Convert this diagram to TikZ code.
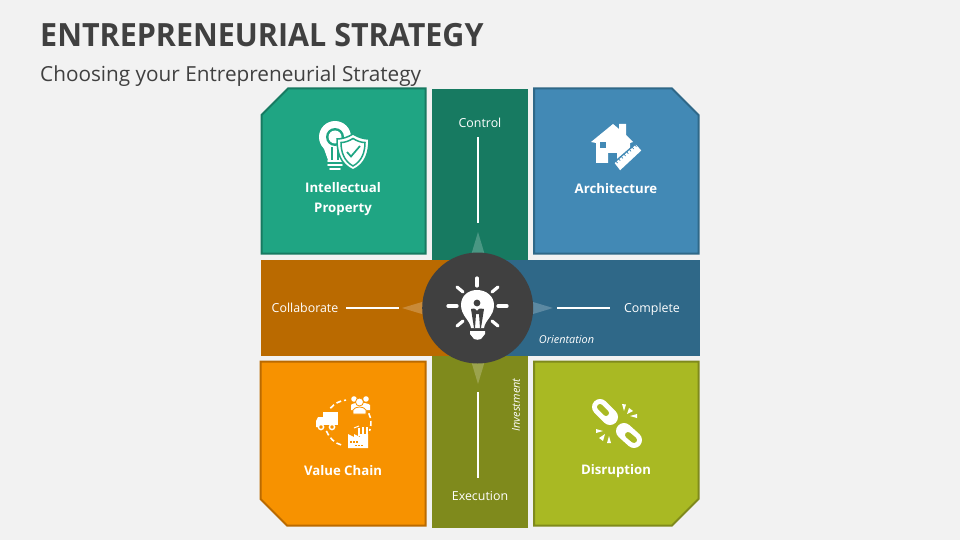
\documentclass[tikz,border=0pt]{standalone}
\usepackage{fontspec}
\usetikzlibrary{calc}
\setmainfont{Open Sans}
\newfontfamily\headfont[FakeStretch=0.952]{Open Sans}
\definecolor{pagebg}{HTML}{F2F2F2}
\definecolor{inkgray}{HTML}{404040}
\definecolor{tealcard}{HTML}{1FA583}
\definecolor{tealband}{HTML}{177A61}
\definecolor{bluecard}{HTML}{4289B5}
\definecolor{blueband}{HTML}{2F6888}
\definecolor{orangecard}{HTML}{F79200}
\definecolor{orangeband}{HTML}{BA6A00}
\definecolor{limecard}{HTML}{A9B923}
\definecolor{oliveband}{HTML}{7F8A1C}
\tikzset{
  cardtext/.style={text=white,font=\fontsize{13.2}{20}\selectfont\bfseries,align=center,inner sep=0pt},
  bandtext/.style={text=white,anchor=base,font=\fontsize{12.4}{14}\selectfont,inner sep=0pt},
  axistext/.style={text=white,font=\fontsize{10.9}{12}\selectfont\itshape,inner sep=0pt},
  bandline/.style={draw=white,line width=1.5pt},
  pointer/.style={fill=white,fill opacity=0.22},
  ray/.style={draw=white,line width=3.2pt,line cap=round},
  dashring/.style={draw=white,line width=1.6pt,dash pattern=on 5pt off 3pt},
}
\begin{document}
\begin{tikzpicture}[x=1pt,y=-1pt]
        \fill [pagebg] (0,0) rectangle (960,540);
        \useasboundingbox (0,0) rectangle (960,540);
        % heading
        \node (title) [anchor=west,inner sep=0pt,text=inkgray,font=\headfont\fontsize{32}{36}\selectfont\bfseries] at (40,35) {ENTREPRENEURIAL STRATEGY};
        \node (subtitle) [anchor=west,inner sep=0pt,text=inkgray,font=\fontsize{20.75}{24}\selectfont] at (40,76.5) {Choosing your Entrepreneurial Strategy};
        % bands
        \fill [tealband] (432,89) rectangle (528,260);
        \fill [oliveband] (432,356) rectangle (528,528);
        \fill [orangeband] (261,260) rectangle (478,356);
        \fill [blueband] (478,260) rectangle (700,356);
        % cards
        \draw [line width=2pt,draw=tealband,fill=tealcard] (288,88.5) -- (425.5,88.5) -- (425.5,253.5) -- (261.5,253.5) -- (261.5,115) -- cycle;
        \draw [line width=2pt,draw=blueband,fill=bluecard] (534,88.5) -- (672,88.5) -- (698.5,115) -- (698.5,253.5) -- (534,253.5) -- cycle;
        \draw [line width=2pt,draw=orangeband,fill=orangecard] (260.5,361.5) -- (425.5,361.5) -- (425.5,525.5) -- (287,525.5) -- (260.5,499) -- cycle;
        \draw [line width=2pt,draw=oliveband,fill=limecard] (534,361.5) -- (698.5,361.5) -- (698.5,499) -- (672,525.5) -- (534,525.5) -- cycle;
        \node (property) [cardtext] at (343,199) {Intellectual\\Property};
        \node (architecture) [cardtext] at (616,188.5) {Architecture};
        \node (valuechain) [cardtext] at (343,471) {Value Chain};
        \node (disruption) [cardtext] at (616,471) {Disruption};
        % band labels and lines
        \node (control) [bandtext] at (480,128) {Control};
        \node (execution) [bandtext] at (480,500) {Execution};
        \node (collaborate) [bandtext] at (305,312) {Collaborate};
        \node (complete) [bandtext] at (652,312) {Complete};
        \node (orientation) [axistext] at (566.5,340) {Orientation};
        \node (investment) [axistext,rotate=90] at (516,405) {Investment};
        \coordinate (controltop) at (478,137);
        \coordinate (controlend) at (478,223);
        \coordinate (executiontop) at (478,392);
        \coordinate (executionend) at (478,478);
        \coordinate (collaborateleft) at (346,308);
        \coordinate (collaborateright) at (399,308);
        \coordinate (completeleft) at (557,308);
        \coordinate (completeright) at (610,308);
        \draw [bandline] (controltop) -- (controlend);
        \draw [bandline] (executiontop) -- (executionend);
        \draw [bandline] (collaborateleft) -- (collaborateright);
        \draw [bandline] (completeleft) -- (completeright);
        % pointers round the hub
        \fill [pointer] (478,232) -- (487,262) -- (469,262) -- cycle;
        \fill [pointer] (478,384) -- (487,354) -- (469,354) -- cycle;
        \fill [pointer] (402,308) -- (432,299) -- (432,317) -- cycle;
        \fill [pointer] (553,308) -- (523,299) -- (523,317) -- cycle;
        % hub
        \node (hub) [circle,fill=inkgray,minimum size=111pt,inner sep=0pt] at (477.7,308) {};
        \draw [ray] (477,278) -- (477,286);
        \draw [ray] (498,306) -- (507,306);
        \draw [ray] (448,306) -- (457,306);
        \draw [ray] (457,287) -- (463,292);
        \draw [ray] (498,287) -- (492,292);
        \draw [ray] (463,321) -- (457,326);
        \draw [ray] (492,321) -- (498,326);
        \fill [white] (471,328) .. controls (470,320) and (461,316) .. (461,305) .. controls (461,296) and (468,290) .. (477,290) .. controls (486,290) and (494,296) .. (494,305) .. controls (494,316) and (485,320) .. (484,328) -- cycle;
        \fill [inkgray] (477,303) circle (3.4);
        \fill [inkgray] (471,309) .. controls (473,308) and (475,308) .. (477,311) .. controls (479,308) and (481,308) .. (484,309) -- (481,328) -- (480,328) -- (479,314) -- (476,314) -- (475,328) -- (474,328) -- cycle;
        \fill [white] (470,331) -- (485,331) -- (485,334) -- (481,339) .. controls (479,340) and (476,340) .. (474,339) -- (470,334) -- cycle;
        % bulb and shield
        \fill [white] (335,137) circle (16);
        \fill [white] (323,146) -- (347,146) -- (343,160) -- (328,160) -- cycle;
        \fill [tealcard] (335,137) circle (9);
        \fill [white] (335,137) circle (6.5);
        \fill [tealcard] (331,147) rectangle (333,160);
        \fill [tealcard] (337,147) rectangle (339,160);
        \draw [white,line width=1.6pt,line cap=round] (328,161) -- (342,161);
        \draw [white,line width=1.6pt,line cap=round] (328,165) -- (342,165);
        \draw [white,line width=1.6pt,line cap=round] (330,169) -- (340,169);
        \draw [tealcard,fill=white,line width=1.5pt] (353,134) .. controls (358,137) and (363,139) .. (369,139) .. controls (369,152) and (366,164) .. (353,170) .. controls (340,164) and (337,152) .. (337,139) .. controls (343,139) and (348,137) .. (353,134) -- cycle;
        \draw [tealcard,line width=1.5pt] (353,138.5) .. controls (357,141) and (361,142.5) .. (365,142.5) .. controls (365,152) and (362,161) .. (353,166) .. controls (344,161) and (341,152) .. (341,142.5) .. controls (345,142.5) and (349,141) .. (353,138.5) -- cycle;
        \draw [tealcard,line width=1.7pt] (347,152) -- (351,156.5) -- (360,146);
        % house and ruler
        \fill [white] (591,142) -- (613,124) -- (619,129) -- (619,124) -- (626,124) -- (626,135) -- (633,142) -- (630,143) -- (630,163) -- (617,163) -- (617,153) -- (608,153) -- (608,163) -- (596,163) -- (596,143) -- cycle;
        \fill [bluecard] (600,142.5) rectangle (606,148.5);
        \fill [white,draw=bluecard,line width=1.4pt] (613.5,163) -- (636,143.5) -- (642.5,150.5) -- (620,171.5) -- cycle;
        \foreach \t in {0.1,0.22,...,0.95}
          \draw [bluecard,line width=0.7pt] ($(613.5,163)!\t!(636,143.5)$) -- ++(1.8,2);
        % value chain
        \fill [white] (323,412) rectangle (338,425);
        \fill [white] (323,417) -- (318,417) -- (316,421) -- (316,427) -- (323,427) -- cycle;
        \draw [white,fill=orangecard,line width=1.4pt] (321,427) circle (2.6);
        \draw [white,fill=orangecard,line width=1.4pt] (332,427) circle (2.6);
        \fill [white] (354,399) circle (2.8);
        \fill [white] (366,399) circle (2.8);
        \fill [white] (351,410) -- (351,405) .. controls (353,402) and (367,402) .. (370,405) -- (370,410) -- cycle;
        \draw [orangecard,fill=white,line width=0.8pt] (359.5,402) circle (4);
        \draw [orangecard,fill=white,line width=0.8pt] (353,414) -- (353,410) .. controls (355,406) and (364,406) .. (366,410) -- (366,414) -- cycle;
        \draw [dashring] (330.4,408.2) arc (-140:-95:23);
        \draw [dashring] (368.8,413.3) arc (-25:20:23);
        \draw [dashring] (326.4,430.9) arc (160:105:23);
        \fill [white] (348,448) -- (348,434) -- (354,437) -- (354,434) -- (360,437) -- (360,434) -- (368,434) -- (368,448) -- cycle;
        \fill [white] (358,428) rectangle (360,436);
        \fill [white] (362,427) rectangle (364,436);
        \fill [white] (366,427) rectangle (368,436);
        \draw [white,line width=1pt] (354,428) -- (359,426);
        \foreach \dotx in {350,353,356}
          \fill [orangecard] (\dotx,441) rectangle +(1.5,1.5);
        \foreach \dotx in {355,358,361}
          \fill [orangecard] (\dotx,444.5) rectangle +(1.5,1.5);
        % broken chain
        \draw [white,line width=16pt,line cap=round] (600,407) -- (610,417);
        \draw [limecard,line width=6pt,line cap=round] (600,407) -- (606,413);
        \draw [white,line width=16pt,line cap=round] (624,431) -- (634,440);
        \draw [limecard,line width=6pt,line cap=round] (628,435) -- (634,440);
        \fill [white] (622,404) -- (626,404.5) -- (624,411) -- cycle;
        \fill [white] (629,408) -- (633,411) -- (627,414) -- cycle;
        \fill [white] (637,414) -- (637,418) -- (630,416) -- cycle;
        \fill [white] (596,429) -- (596,433) -- (603,431) -- cycle;
        \fill [white] (599,438) -- (603,441) -- (605,434) -- cycle;
        \fill [white] (607,443) -- (611,443) -- (609,436) -- cycle;
\end{tikzpicture}
\end{document}
